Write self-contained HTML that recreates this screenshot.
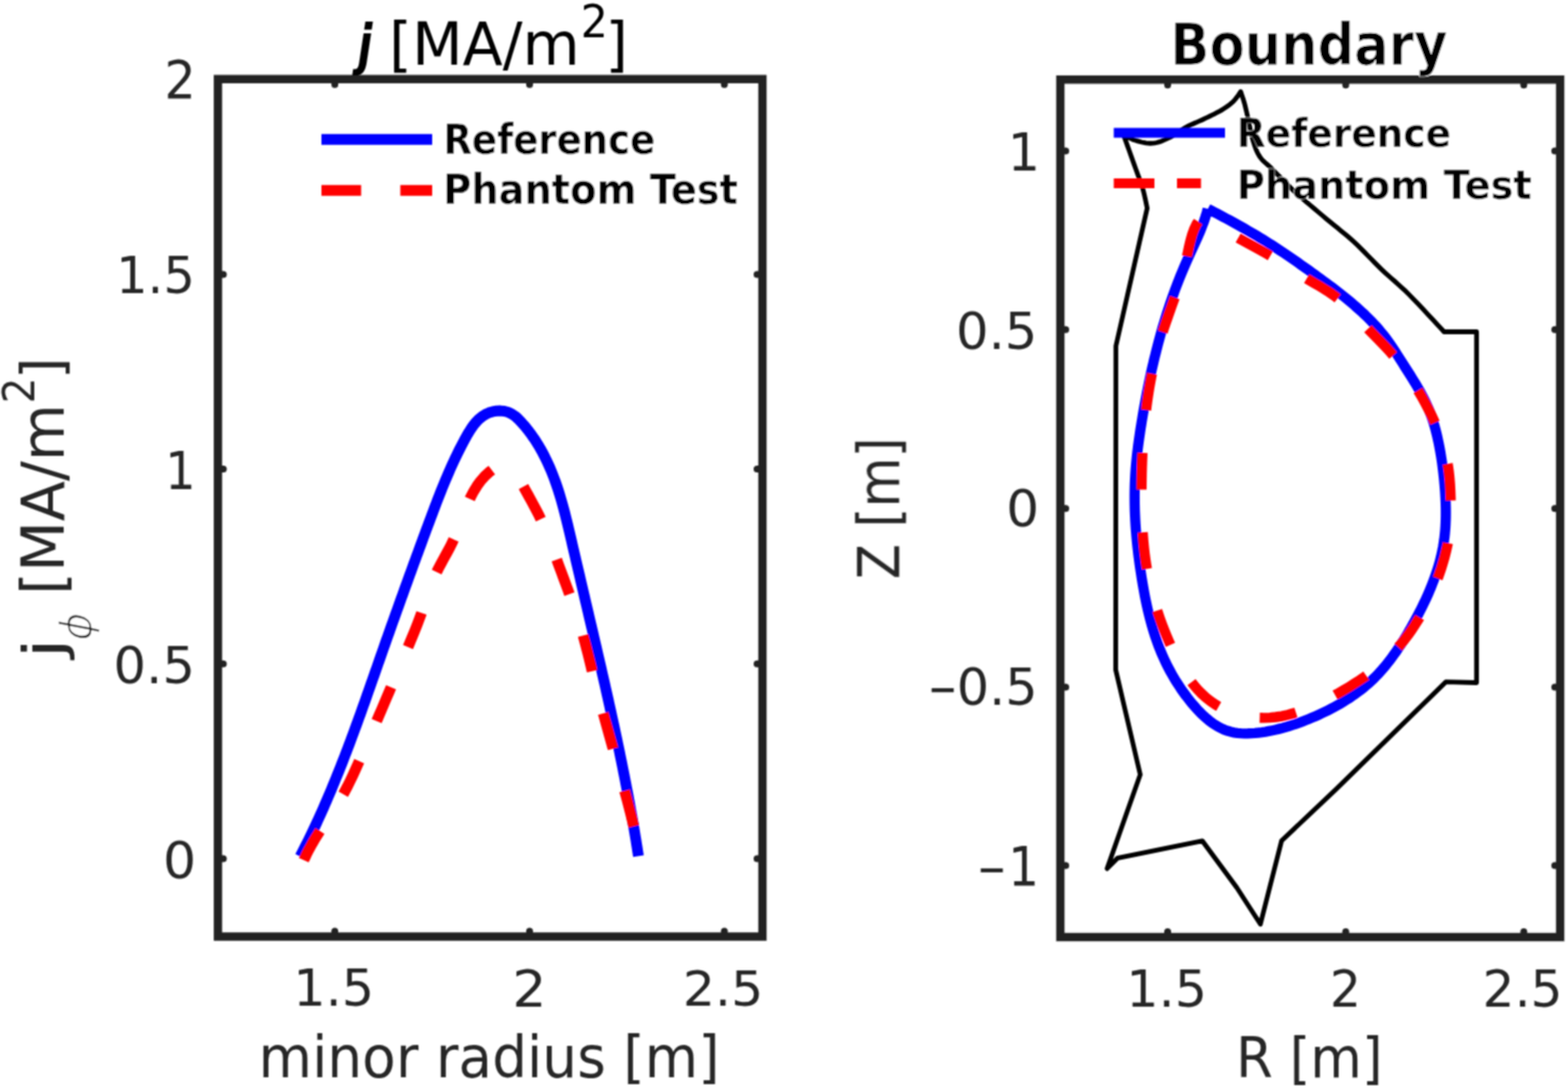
<!DOCTYPE html><html><head><meta charset="utf-8"><title>j and Boundary</title><style>html,body{margin:0;padding:0;background:#fff;}svg{display:block;}text{font-family:"DejaVu Sans","Liberation Sans",sans-serif;}</style></head><body>
<svg width="1600" height="1112" viewBox="0 0 1600 1112">
<defs><filter id="soft" x="0" y="0" width="1600" height="1112" filterUnits="userSpaceOnUse"><feConvolveMatrix order="3" kernelMatrix="1 2 1 2 4 2 1 2 1" divisor="16" edgeMode="duplicate"/></filter></defs>
<rect width="1600" height="1112" fill="#fff"/>
<g filter="url(#soft)">
<path d="M306.25,873.75 L308.18,870.04 L310.09,866.32 L311.97,862.59 L313.84,858.85 L315.68,855.1 L317.5,851.35 L319.31,847.59 L321.09,843.82 L322.85,840.05 L324.6,836.27 L326.33,832.48 L328.04,828.69 L329.73,824.89 L331.41,821.08 L333.07,817.27 L334.71,813.45 L336.34,809.63 L337.95,805.8 L339.55,801.97 L341.13,798.13 L342.7,794.28 L344.26,790.43 L345.81,786.58 L347.34,782.72 L348.86,778.86 L350.37,774.99 L351.87,771.11 L353.36,767.24 L354.84,763.36 L356.31,759.47 L357.77,755.58 L359.22,751.69 L360.66,747.8 L362.1,743.9 L363.53,740 L364.95,736.09 L366.37,732.19 L367.78,728.28 L369.18,724.36 L370.58,720.45 L371.98,716.53 L373.37,712.61 L374.75,708.69 L376.14,704.77 L377.52,700.85 L378.9,696.92 L380.28,692.99 L381.66,689.06 L383.03,685.13 L384.41,681.2 L385.78,677.27 L387.16,673.34 L388.54,669.41 L389.91,665.48 L391.3,661.54 L392.68,657.61 L394.06,653.68 L395.45,649.74 L396.84,645.81 L398.23,641.88 L399.63,637.95 L401.03,634.02 L402.43,630.09 L403.83,626.16 L405.23,622.23 L406.64,618.3 L408.04,614.38 L409.45,610.46 L410.87,606.53 L412.28,602.61 L413.7,598.69 L415.11,594.78 L416.53,590.86 L417.95,586.95 L419.37,583.04 L420.8,579.13 L422.22,575.22 L423.65,571.32 L425.08,567.42 L426.51,563.52 L427.94,559.63 L429.38,555.73 L430.81,551.85 L432.25,547.96 L433.68,544.08 L435.12,540.2 L436.56,536.33 L438,532.46 L439.44,528.59 L440.89,524.73 L442.34,520.87 L443.79,517.01 L445.26,513.16 L446.74,509.31 L448.24,505.47 L449.76,501.63 L451.29,497.79 L452.85,493.95 L454.44,490.12 L456.05,486.29 L457.7,482.46 L459.37,478.64 L461.09,474.82 L462.84,471 L464.64,467.18 L466.48,463.37 L468.36,459.55 L470.3,455.74 L472.28,451.93 L474.32,448.13 L476.42,444.33 L478.62,440.6 L480.93,437 L483.38,433.57 L486.02,430.38 L488.87,427.48 L491.95,424.94 L495.29,422.8 L498.91,421.11 L502.73,419.92 L506.67,419.24 L510.65,419.1 L514.6,419.53 L518.43,420.56 L522.08,422.21 L525.46,424.48 L528.62,427.25 L531.6,430.32 L534.45,433.53 L537.18,436.81 L539.81,440.16 L542.34,443.58 L544.76,447.05 L547.08,450.58 L549.3,454.16 L551.43,457.77 L553.46,461.43 L555.4,465.12 L557.26,468.84 L559.03,472.59 L560.73,476.37 L562.35,480.18 L563.9,484.01 L565.38,487.87 L566.8,491.76 L568.16,495.67 L569.46,499.59 L570.72,503.54 L571.92,507.5 L573.09,511.48 L574.21,515.48 L575.3,519.49 L576.35,523.51 L577.38,527.54 L578.38,531.58 L579.36,535.62 L580.33,539.67 L581.29,543.73 L582.23,547.79 L583.17,551.85 L584.11,555.91 L585.05,559.97 L585.99,564.02 L586.94,568.08 L587.88,572.14 L588.82,576.2 L589.77,580.25 L590.71,584.31 L591.66,588.36 L592.6,592.42 L593.55,596.47 L594.49,600.52 L595.44,604.58 L596.39,608.63 L597.33,612.68 L598.28,616.74 L599.23,620.79 L600.17,624.84 L601.12,628.9 L602.07,632.95 L603.01,637 L603.96,641.06 L604.91,645.11 L605.85,649.16 L606.79,653.22 L607.74,657.27 L608.68,661.32 L609.62,665.38 L610.55,669.43 L611.49,673.49 L612.42,677.54 L613.36,681.6 L614.28,685.66 L615.21,689.71 L616.13,693.77 L617.06,697.83 L617.97,701.89 L618.89,705.95 L619.8,710.01 L620.71,714.07 L621.61,718.13 L622.51,722.2 L623.41,726.26 L624.3,730.32 L625.18,734.39 L626.07,738.46 L626.94,742.52 L627.82,746.59 L628.68,750.66 L629.55,754.73 L630.4,758.8 L631.26,762.88 L632.1,766.95 L632.94,771.02 L633.77,775.1 L634.6,779.18 L635.42,783.26 L636.23,787.34 L637.04,791.42 L637.84,795.5 L638.63,799.59 L639.42,803.68 L640.2,807.76 L640.97,811.85 L641.73,815.94 L642.49,820.04 L643.23,824.13 L643.97,828.23 L644.7,832.33 L645.42,836.43 L646.13,840.53 L646.83,844.63 L647.53,848.74 L648.21,852.85 L648.89,856.96 L649.55,861.07 L650.21,865.18 L650.85,869.3 L651.49,873.41" fill="none" stroke="#0000ff" stroke-width="11" stroke-linejoin="round"/>
<path d="M309.99,877.5 L312.61,871.84 L315.44,866.31 L318.44,860.88 L321.59,855.55 L324.85,850.28 L328.2,845.06 L331.6,839.87 L335.01,834.7 L338.42,829.52 L341.78,824.32 L345.07,819.08 L348.25,813.77 L351.3,808.39 L354.2,802.92 L356.97,797.38 L359.64,791.78 L362.23,786.14 L364.77,780.47 L367.28,774.79 L369.77,769.1 L372.26,763.42 L374.74,757.73 L377.22,752.04 L379.68,746.35 L382.14,740.66 L384.59,734.97 L387.04,729.28 L389.48,723.58 L391.91,717.89 L394.34,712.19 L396.77,706.49 L399.19,700.79 L401.6,695.09 L404.01,689.39 L406.42,683.69 L408.82,677.99 L411.22,672.28 L413.62,666.58 L416.02,660.87 L418.41,655.16 L420.78,649.45 L423.12,643.71 L425.4,637.95 L427.62,632.15 L429.75,626.31 L431.78,620.43 L433.76,614.52 L435.74,608.61 L437.76,602.73 L439.88,596.9 L442.16,591.15 L444.64,585.52 L447.35,580 L450.22,574.56 L453.18,569.17 L456.15,563.77 L459.06,558.33 L461.82,552.79 L464.38,547.13 L466.73,541.35 L468.96,535.5 L471.13,529.6 L473.31,523.72 L475.57,517.87 L477.97,512.12 L480.57,506.49 L483.46,501.02 L486.69,495.76 L490.33,490.75 L494.45,486.03 L499.12,481.64 L504.36,477.7 L509.86,474.95 L515.16,474.39 L519.97,476.47 L524.34,480.62 L528.34,486.17 L532.03,492.45 L535.48,498.79 L538.75,504.74 L541.85,510.37 L544.8,515.77 L547.6,521.05 L550.26,526.3 L552.8,531.63 L555.22,537.12 L557.56,542.74 L559.81,548.47 L562.01,554.29 L564.17,560.16 L566.32,566.06 L568.46,571.97 L570.61,577.84 L572.78,583.7 L574.95,589.54 L577.11,595.37 L579.26,601.19 L581.38,607 L583.47,612.82 L585.52,618.65 L587.53,624.48 L589.48,630.33 L591.36,636.21 L593.18,642.1 L594.91,648.03 L596.56,653.99 L598.14,659.98 L599.67,666 L601.16,672.02 L602.63,678.05 L604.11,684.09 L605.61,690.12 L607.14,696.13 L608.69,702.14 L610.26,708.15 L611.86,714.14 L613.47,720.13 L615.09,726.11 L616.73,732.09 L618.38,738.07 L620.04,744.04 L621.7,750.01 L623.37,755.98 L625.04,761.94 L626.71,767.91 L628.37,773.87 L630.03,779.84 L631.69,785.81 L633.33,791.78 L634.96,797.75 L636.58,803.73 L638.18,809.71 L639.77,815.7 L641.33,821.69 L642.87,827.69 L644.39,833.69 L645.87,839.71 L647.33,845.73 L648.76,851.76 L650.15,857.8 L651.5,863.85 L652.82,869.92 L654.09,875.99" fill="none" stroke="#ff0000" stroke-width="11" stroke-dasharray="37.5 44.5" stroke-dashoffset="3.5" stroke-linejoin="round"/>
<rect x="222.4" y="80.7" width="555.6" height="874.8" fill="none" stroke="#232323" stroke-width="8.5"/>
<path d="M341.65,955.5 v-5.5 M341.65,80.7 v5.5 M540.4,955.5 v-5.5 M540.4,80.7 v5.5 M739.15,955.5 v-5.5 M739.15,80.7 v5.5 M222.4,876 h5.5 M778,876 h-5.5 M222.4,677.3 h5.5 M778,677.3 h-5.5 M222.4,478.6 h5.5 M778,478.6 h-5.5 M222.4,279.9 h5.5 M778,279.9 h-5.5" stroke="#232323" stroke-width="7" stroke-linecap="round" fill="none"/>
<path d="M328,142.2 H441" stroke="#0000ff" stroke-width="11"/>
<path d="M328,194.2 H368.5" stroke="#ff0000" stroke-width="11"/>
<path d="M408.5,194.2 H441" stroke="#ff0000" stroke-width="11"/>
<text transform="matrix(0.50426 0 0 0.52703 167.77 100)" font-size="100" fill="#262626">2</text>
<text transform="matrix(0.50576 0 0 0.51081 118.44 298.69)" font-size="100" fill="#262626">1.5</text>
<text transform="matrix(0.4907 0 0 0.52877 168.6 498.5)" font-size="100" fill="#262626">1</text>
<text transform="matrix(0.52308 0 0 0.51316 115.84 697.19)" font-size="100" fill="#262626">0.5</text>
<text transform="matrix(0.534 0 0 0.51579 166.36 895.58)" font-size="100" fill="#262626">0</text>
<text transform="matrix(0.51942 0 0 0.51081 299.29 1026.19)" font-size="100" fill="#262626">1.5</text>
<text transform="matrix(0.54894 0 0 0.51081 522.86 1026.7)" font-size="100" fill="#262626">2</text>
<text transform="matrix(0.51678 0 0 0.504 696.68 1026.2)" font-size="100" fill="#262626">2.5</text>
<text transform="matrix(0.56078 0 0 0.59326 263.85 1099.19)" font-size="100" fill="#262626">minor radius [m]</text>
<text transform="matrix(0.37849 0 0 0.42987 452.39 156.57)" font-size="100" font-weight="bold" fill="#000" stroke="#fff" stroke-width="1.0" stroke-linejoin="round">Reference</text>
<text transform="matrix(0.39142 0 0 0.43117 452.28 208.47)" font-size="100" font-weight="bold" fill="#000" stroke="#fff" stroke-width="1.0" stroke-linejoin="round">Phantom Test</text>
<text transform="matrix(0.43958 0 0 0.56598 365.11 65.01)" font-size="100" font-weight="bold" font-style="italic" fill="#000">j</text>
<text transform="matrix(0.59837 0 0 0.6 397.11 66.2)" font-size="100" fill="#000">[MA/m</text>
<text transform="matrix(0.4383 0 0 0.45608 592.53 37.5)" font-size="100" fill="#000">2</text>
<text transform="matrix(0.59 0 0 0.6 617.8 66.2)" font-size="100" fill="#000">]</text>
<text transform="matrix(0 -0.765 0.56701 0 64.39 672.07)" font-size="100" fill="#262626">j</text>
<text transform="matrix(0 -0.44821 0.44124 0 92.93 654.04)" font-size="100" font-style="italic" fill="#262626" stroke="#fff" stroke-width="4" stroke-linejoin="round">ϕ</text>
<text transform="matrix(0 -0.59967 0.6 0 65 606.9)" font-size="100" fill="#262626">[MA/m</text>
<text transform="matrix(0 -0.41489 0.43784 0 34.8 411.4)" font-size="100" fill="#262626">2</text>
<text transform="matrix(0 -0.565 0.59101 0 64.32 386.65)" font-size="100" fill="#262626">]</text>
<path d="M1146.5,137.6 L1147.42,138.06 L1148.6,138.69 L1150,139.44 L1151.57,140.27 L1153.29,141.12 L1155.09,141.94 L1156.94,142.68 L1158.8,143.3 L1160.71,143.86 L1162.75,144.43 L1164.89,144.97 L1167.09,145.47 L1169.33,145.87 L1171.58,146.15 L1173.81,146.27 L1176,146.2 L1178.16,145.93 L1180.32,145.48 L1182.48,144.88 L1184.64,144.16 L1186.81,143.32 L1188.97,142.41 L1191.14,141.42 L1193.3,140.4 L1195.46,139.27 L1197.63,137.98 L1199.79,136.59 L1201.96,135.13 L1204.12,133.66 L1206.28,132.21 L1208.44,130.85 L1210.6,129.6 L1212.75,128.48 L1214.9,127.44 L1217.05,126.46 L1219.2,125.51 L1221.35,124.59 L1223.5,123.66 L1225.65,122.7 L1227.8,121.7 L1230,120.65 L1232.25,119.58 L1234.54,118.5 L1236.81,117.4 L1239.03,116.3 L1241.18,115.22 L1243.21,114.15 L1245.1,113.1 L1246.85,112.07 L1248.52,111.04 L1250.09,110.02 L1251.57,109.02 L1252.96,108.03 L1254.26,107.06 L1255.47,106.12 L1256.6,105.2 L1257.61,104.31 L1258.5,103.45 L1259.29,102.6 L1259.99,101.78 L1260.64,100.98 L1261.24,100.2 L1261.82,99.44 L1262.4,98.7 L1262.98,97.95 L1263.54,97.19 L1264.07,96.43 L1264.56,95.69 L1265.01,95.01 L1265.4,94.4 L1265.74,93.89 L1266,93.5 L1266.28,94.33 L1266.65,95.42 L1267.1,96.71 L1267.59,98.16 L1268.11,99.71 L1268.64,101.32 L1269.14,102.93 L1269.6,104.5 L1270.01,105.98 L1270.39,107.41 L1270.75,108.84 L1271.11,110.33 L1271.49,111.93 L1271.91,113.7 L1272.37,115.71 L1272.9,118 L1273.5,120.7 L1274.15,123.81 L1274.84,127.19 L1275.57,130.72 L1276.33,134.28 L1277.11,137.73 L1277.9,140.95 L1278.7,143.8 L1279.49,146.32 L1280.26,148.65 L1281.03,150.81 L1281.83,152.83 L1282.68,154.74 L1283.59,156.57 L1284.59,158.35 L1285.7,160.1 L1286.86,161.7 L1288.02,163.07 L1289.23,164.31 L1290.53,165.51 L1291.95,166.76 L1293.54,168.16 L1295.35,169.81 L1297.4,171.8 L1299.7,174.13 L1302.21,176.72 L1304.91,179.51 L1307.79,182.48 L1310.83,185.57 L1314.02,188.75 L1317.35,191.97 L1320.8,195.2 L1324.47,198.52 L1328.43,202 L1332.58,205.6 L1336.86,209.25 L1341.17,212.9 L1345.43,216.5 L1349.57,219.98 L1353.5,223.3 L1357.23,226.42 L1360.85,229.37 L1364.38,232.22 L1367.84,235.01 L1371.27,237.79 L1374.69,240.64 L1378.12,243.59 L1381.6,246.7 L1385.1,250 L1388.6,253.43 L1392.1,256.96 L1395.6,260.56 L1399.1,264.17 L1402.6,267.75 L1406.1,271.28 L1409.6,274.7 L1413.06,277.94 L1416.44,281 L1419.79,283.96 L1423.16,286.92 L1426.59,289.96 L1430.13,293.16 L1433.82,296.61 L1437.7,300.4 L1442.05,304.83 L1446.95,309.95 L1452.13,315.45 L1457.36,321.06 L1462.36,326.46 L1466.89,331.36 L1470.69,335.48 L1473.5,338.5 L1506.7,338.5 L1506.7,696.5 L1475.3,695.7 L1363.5,805 L1307.7,857.8 L1286.1,942.8 L1262,905.5 L1226.8,857.8 L1140.5,875.3 L1129.7,886.1 L1163.5,790.2 L1138.5,683.4 L1138.7,353 L1170.6,212.4 L1170.26,210.84 L1169.83,208.77 L1169.33,206.3 L1168.75,203.56 L1168.12,200.66 L1167.44,197.72 L1166.73,194.86 L1166,192.2 L1165.26,189.77 L1164.5,187.48 L1163.71,185.25 L1162.88,182.99 L1161.99,180.62 L1161.02,178.05 L1159.96,175.2 L1158.8,172 L1157.42,168.14 L1155.8,163.59 L1154.02,158.63 L1152.2,153.54 L1150.44,148.6 L1148.83,144.11 L1147.48,140.35 Z" fill="none" stroke="#000" stroke-width="4.8" stroke-linejoin="round"/>
<path d="M1232.52,212.99 L1235.67,214.64 L1238.82,216.29 L1241.97,217.95 L1245.12,219.62 L1248.27,221.3 L1251.42,222.99 L1254.57,224.69 L1257.7,226.4 L1260.84,228.13 L1263.97,229.86 L1267.08,231.61 L1270.2,233.38 L1273.3,235.16 L1276.39,236.95 L1279.47,238.76 L1282.54,240.59 L1285.59,242.44 L1288.63,244.3 L1291.66,246.18 L1294.68,248.08 L1297.68,249.99 L1300.67,251.92 L1303.65,253.87 L1306.63,255.82 L1309.59,257.8 L1312.54,259.79 L1315.49,261.79 L1318.42,263.8 L1321.35,265.82 L1324.27,267.86 L1327.19,269.9 L1330.1,271.96 L1333.01,274.03 L1335.91,276.1 L1338.81,278.19 L1341.71,280.28 L1344.6,282.38 L1347.49,284.49 L1350.38,286.61 L1353.26,288.73 L1356.14,290.87 L1359.01,293.02 L1361.86,295.18 L1364.71,297.36 L1367.53,299.56 L1370.34,301.77 L1373.14,304.01 L1375.9,306.27 L1378.65,308.56 L1381.37,310.87 L1384.06,313.21 L1386.72,315.58 L1389.35,317.98 L1391.95,320.41 L1394.51,322.88 L1397.03,325.38 L1399.51,327.93 L1401.94,330.51 L1404.34,333.13 L1406.68,335.8 L1408.98,338.51 L1411.23,341.26 L1413.42,344.07 L1415.56,346.92 L1417.64,349.82 L1419.69,352.76 L1421.69,355.73 L1423.67,358.73 L1425.62,361.74 L1427.55,364.77 L1429.48,367.8 L1431.41,370.82 L1433.34,373.84 L1435.27,376.85 L1437.19,379.86 L1439.1,382.88 L1441,385.9 L1442.87,388.94 L1444.72,391.98 L1446.53,395.05 L1448.3,398.14 L1450.04,401.26 L1451.72,404.41 L1453.35,407.58 L1454.91,410.79 L1456.4,414.02 L1457.82,417.3 L1459.16,420.61 L1460.41,423.95 L1461.58,427.33 L1462.67,430.74 L1463.69,434.17 L1464.64,437.62 L1465.53,441.08 L1466.37,444.56 L1467.16,448.03 L1467.91,451.51 L1468.61,455 L1469.27,458.49 L1469.89,461.98 L1470.47,465.48 L1471.02,468.98 L1471.53,472.5 L1472,476.02 L1472.45,479.55 L1472.86,483.09 L1473.24,486.63 L1473.6,490.19 L1473.93,493.76 L1474.23,497.34 L1474.51,500.93 L1474.75,504.53 L1474.95,508.13 L1475.12,511.74 L1475.24,515.34 L1475.32,518.95 L1475.35,522.56 L1475.33,526.16 L1475.26,529.75 L1475.13,533.34 L1474.95,536.92 L1474.7,540.49 L1474.39,544.05 L1474.01,547.6 L1473.56,551.12 L1473.03,554.64 L1472.44,558.13 L1471.77,561.6 L1471.04,565.06 L1470.24,568.5 L1469.37,571.93 L1468.44,575.34 L1467.45,578.73 L1466.4,582.1 L1465.29,585.46 L1464.13,588.81 L1462.92,592.14 L1461.65,595.46 L1460.34,598.76 L1458.98,602.05 L1457.57,605.32 L1456.12,608.58 L1454.63,611.83 L1453.1,615.07 L1451.54,618.29 L1449.94,621.5 L1448.3,624.7 L1446.64,627.89 L1444.95,631.06 L1443.22,634.23 L1441.48,637.38 L1439.71,640.53 L1437.91,643.65 L1436.09,646.76 L1434.23,649.86 L1432.34,652.93 L1430.42,655.97 L1428.47,658.99 L1426.48,661.98 L1424.45,664.94 L1422.38,667.86 L1420.28,670.75 L1418.13,673.6 L1415.93,676.4 L1413.69,679.17 L1411.4,681.88 L1409.07,684.55 L1406.68,687.16 L1404.24,689.72 L1401.75,692.22 L1399.21,694.67 L1396.6,697.05 L1393.94,699.37 L1391.23,701.63 L1388.47,703.83 L1385.65,705.97 L1382.79,708.06 L1379.88,710.09 L1376.93,712.07 L1373.94,713.99 L1370.92,715.87 L1367.85,717.69 L1364.75,719.46 L1361.62,721.19 L1358.46,722.87 L1355.28,724.51 L1352.06,726.1 L1348.83,727.66 L1345.57,729.17 L1342.3,730.64 L1339,732.07 L1335.69,733.46 L1332.37,734.8 L1329.02,736.1 L1325.66,737.35 L1322.28,738.54 L1318.89,739.68 L1315.48,740.76 L1312.05,741.79 L1308.61,742.75 L1305.16,743.64 L1301.68,744.47 L1298.2,745.22 L1294.69,745.91 L1291.18,746.52 L1287.64,747.05 L1284.1,747.5 L1280.54,747.87 L1276.96,748.15 L1273.38,748.31 L1269.8,748.33 L1266.23,748.18 L1262.68,747.82 L1259.17,747.27 L1255.73,746.5 L1252.36,745.51 L1249.09,744.31 L1245.91,742.88 L1242.83,741.27 L1239.83,739.47 L1236.92,737.5 L1234.08,735.38 L1231.33,733.12 L1228.65,730.74 L1226.05,728.26 L1223.51,725.68 L1221.04,723.02 L1218.63,720.3 L1216.28,717.53 L1213.98,714.73 L1211.75,711.89 L1209.57,709.01 L1207.45,706.1 L1205.38,703.16 L1203.37,700.18 L1201.41,697.18 L1199.51,694.14 L1197.67,691.08 L1195.88,687.99 L1194.15,684.87 L1192.47,681.72 L1190.85,678.55 L1189.28,675.35 L1187.77,672.13 L1186.31,668.89 L1184.9,665.62 L1183.55,662.34 L1182.26,659.04 L1181.02,655.71 L1179.83,652.37 L1178.68,649.02 L1177.59,645.64 L1176.54,642.25 L1175.53,638.85 L1174.57,635.43 L1173.65,631.99 L1172.76,628.55 L1171.91,625.09 L1171.1,621.62 L1170.32,618.15 L1169.57,614.66 L1168.86,611.16 L1168.16,607.66 L1167.5,604.15 L1166.86,600.63 L1166.24,597.11 L1165.64,593.58 L1165.06,590.05 L1164.5,586.52 L1163.96,582.98 L1163.44,579.44 L1162.93,575.9 L1162.44,572.35 L1161.98,568.8 L1161.53,565.25 L1161.11,561.7 L1160.71,558.15 L1160.33,554.59 L1159.97,551.04 L1159.64,547.48 L1159.33,543.92 L1159.05,540.36 L1158.8,536.8 L1158.57,533.24 L1158.37,529.67 L1158.2,526.11 L1158.05,522.55 L1157.93,518.98 L1157.85,515.42 L1157.79,511.86 L1157.77,508.3 L1157.77,504.73 L1157.81,501.17 L1157.89,497.61 L1157.99,494.05 L1158.13,490.49 L1158.31,486.94 L1158.52,483.38 L1158.76,479.83 L1159.04,476.28 L1159.35,472.73 L1159.69,469.18 L1160.06,465.63 L1160.46,462.09 L1160.88,458.54 L1161.33,455 L1161.8,451.47 L1162.29,447.93 L1162.8,444.4 L1163.33,440.86 L1163.87,437.33 L1164.43,433.81 L1165,430.28 L1165.59,426.76 L1166.19,423.24 L1166.79,419.72 L1167.41,416.21 L1168.05,412.7 L1168.69,409.19 L1169.35,405.68 L1170.02,402.18 L1170.71,398.68 L1171.41,395.18 L1172.12,391.69 L1172.85,388.2 L1173.59,384.71 L1174.35,381.23 L1175.13,377.74 L1175.92,374.27 L1176.72,370.79 L1177.54,367.32 L1178.38,363.85 L1179.24,360.39 L1180.11,356.92 L1181,353.47 L1181.91,350.02 L1182.83,346.57 L1183.78,343.12 L1184.74,339.69 L1185.72,336.25 L1186.72,332.83 L1187.74,329.4 L1188.78,325.99 L1189.84,322.58 L1190.92,319.18 L1192.02,315.78 L1193.14,312.39 L1194.28,309.01 L1195.44,305.64 L1196.63,302.27 L1197.83,298.91 L1199.06,295.57 L1200.31,292.23 L1201.59,288.89 L1202.88,285.57 L1204.2,282.26 L1205.55,278.95 L1206.91,275.66 L1208.31,272.38 L1209.72,269.11 L1211.16,265.84 L1212.63,262.59 L1214.11,259.35 L1215.61,256.11 L1217.11,252.88 L1218.6,249.64 L1220.08,246.4 L1221.54,243.15 L1222.97,239.88 L1224.36,236.61 L1225.71,233.31 L1227,229.99 L1228.24,226.65 L1229.4,223.28 L1230.48,219.87 L1231.48,216.43 L1232.39,212.96" fill="none" stroke="#0000ff" stroke-width="10.4" stroke-linejoin="miter"/>
<path d="M1228.98,219.02 L1233.79,223.16 L1238.74,227.04 L1243.82,230.7 L1249.02,234.16 L1254.31,237.47 L1259.68,240.65 L1265.1,243.74 L1270.57,246.75 L1276.06,249.74 L1281.55,252.71 L1287.03,255.72 L1292.48,258.79 L1297.87,261.94 L1303.21,265.2 L1308.51,268.53 L1313.79,271.91 L1319.06,275.3 L1324.34,278.68 L1329.66,282 L1335.03,285.24 L1340.44,288.42 L1345.84,291.6 L1351.18,294.83 L1356.42,298.18 L1361.51,301.71 L1366.41,305.48 L1371.09,309.52 L1375.6,313.79 L1379.98,318.23 L1384.27,322.78 L1388.52,327.4 L1392.77,332.03 L1397.06,336.61 L1401.42,341.13 L1405.8,345.62 L1410.17,350.1 L1414.49,354.62 L1418.72,359.21 L1422.82,363.91 L1426.77,368.73 L1430.57,373.67 L1434.23,378.73 L1437.77,383.88 L1441.21,389.11 L1444.54,394.42 L1447.79,399.79 L1450.96,405.23 L1454.02,410.71 L1456.97,416.26 L1459.8,421.87 L1462.49,427.53 L1465.03,433.26 L1467.4,439.04 L1469.6,444.88 L1471.61,450.78 L1473.42,456.74 L1475.01,462.76 L1476.37,468.83 L1477.5,474.97 L1478.38,481.16 L1479.06,487.4 L1479.57,493.68 L1479.93,499.97 L1480.19,506.28 L1480.37,512.59 L1480.48,518.88 L1480.44,525.16 L1480.22,531.41 L1479.76,537.62 L1479.07,543.79 L1478.14,549.93 L1477.01,556.03 L1475.67,562.1 L1474.14,568.13 L1472.44,574.13 L1470.57,580.09 L1468.55,586.03 L1466.39,591.93 L1464.1,597.79 L1461.68,603.62 L1459.12,609.39 L1456.42,615.09 L1453.57,620.72 L1450.58,626.27 L1447.45,631.73 L1444.16,637.08 L1440.71,642.31 L1437.11,647.43 L1433.34,652.4 L1429.42,657.24 L1425.32,661.92 L1421.06,666.44 L1416.63,670.8 L1412.05,675.01 L1407.34,679.07 L1402.49,683 L1397.52,686.79 L1392.44,690.47 L1387.26,694.02 L1381.99,697.46 L1376.64,700.79 L1371.22,704.03 L1365.73,707.17 L1360.19,710.23 L1354.61,713.19 L1348.98,716.05 L1343.3,718.76 L1337.57,721.3 L1331.78,723.64 L1325.94,725.77 L1320.04,727.64 L1314.07,729.24 L1308.04,730.53 L1301.95,731.5 L1295.78,732.1 L1289.55,732.33 L1283.24,732.14 L1276.87,731.53 L1270.5,730.49 L1264.18,729.03 L1257.98,727.15 L1251.96,724.86 L1246.18,722.18 L1240.71,719.1 L1235.56,715.64 L1230.73,711.83 L1226.19,707.7 L1221.93,703.27 L1217.92,698.58 L1214.15,693.65 L1210.61,688.52 L1207.27,683.2 L1204.11,677.73 L1201.13,672.14 L1198.29,666.45 L1195.58,660.7 L1192.99,654.9 L1190.51,649.08 L1188.14,643.23 L1185.88,637.35 L1183.73,631.45 L1181.7,625.52 L1179.79,619.57 L1177.99,613.58 L1176.32,607.58 L1174.76,601.55 L1173.33,595.49 L1172.02,589.42 L1170.84,583.31 L1169.78,577.19 L1168.85,571.04 L1168.03,564.88 L1167.33,558.69 L1166.73,552.49 L1166.23,546.27 L1165.81,540.04 L1165.48,533.79 L1165.22,527.54 L1165.04,521.28 L1164.92,515.01 L1164.85,508.73 L1164.83,502.45 L1164.85,496.17 L1164.92,489.88 L1165.03,483.6 L1165.19,477.32 L1165.4,471.04 L1165.66,464.76 L1165.98,458.49 L1166.35,452.22 L1166.78,445.96 L1167.28,439.71 L1167.84,433.47 L1168.46,427.24 L1169.15,421.01 L1169.92,414.81 L1170.76,408.61 L1171.67,402.43 L1172.66,396.27 L1173.74,390.12 L1174.89,384 L1176.14,377.89 L1177.47,371.8 L1178.89,365.73 L1180.4,359.69 L1182.01,353.67 L1183.72,347.68 L1185.52,341.71 L1187.43,335.77 L1189.41,329.85 L1191.45,323.94 L1193.53,318.04 L1195.63,312.13 L1197.73,306.22 L1199.8,300.3 L1201.83,294.35 L1203.8,288.37 L1205.68,282.36 L1207.46,276.3 L1209.11,270.19 L1210.62,264.03 L1211.98,257.82 L1213.3,251.6 L1214.73,245.47 L1216.41,239.5 L1218.49,233.76 L1221.11,228.33 L1224.42,223.3 L1228.56,218.72" fill="none" stroke="#ff0000" stroke-width="10.4" stroke-dasharray="37.5 43.8" stroke-dashoffset="39.35" stroke-linejoin="miter"/>
<rect x="1082" y="81.2" width="510" height="874.8" fill="none" stroke="#232323" stroke-width="8.5"/>
<path d="M1191.5,956 v-5.5 M1191.5,81.2 v5.5 M1373.2,956 v-5.5 M1373.2,81.2 v5.5 M1554.9,956 v-5.5 M1554.9,81.2 v5.5 M1082,153.9 h5.5 M1592,153.9 h-5.5 M1082,336.3 h5.5 M1592,336.3 h-5.5 M1082,518.7 h5.5 M1592,518.7 h-5.5 M1082,701 h5.5 M1592,701 h-5.5 M1082,883 h5.5 M1592,883 h-5.5" stroke="#232323" stroke-width="7" stroke-linecap="round" fill="none"/>
<path d="M1136.5,135.5 H1250" stroke="#0000ff" stroke-width="10"/>
<path d="M1136.5,187 H1178" stroke="#ff0000" stroke-width="10"/>
<path d="M1201,187 H1225.5" stroke="#ff0000" stroke-width="10"/>
<text transform="matrix(0.5186 0 0 0.52877 1028.3 173.8)" font-size="100" fill="#262626">1</text>
<text transform="matrix(0.52308 0 0 0.52237 975.44 355.58)" font-size="100" fill="#262626">0.5</text>
<text transform="matrix(0.528 0 0 0.51842 1026.8 537.48)" font-size="100" fill="#262626">0</text>
<text transform="matrix(0.51799 0 0 0.51622 1149.3 1026.78)" font-size="100" fill="#262626">1.5</text>
<text transform="matrix(0.5 0 0 0.51622 1357.1 1027.3)" font-size="100" fill="#262626">2</text>
<text transform="matrix(0.51399 0 0 0.50933 1512.7 1026.79)" font-size="100" fill="#262626">2.5</text>
<text transform="matrix(0.5407 0 0 0.57753 1261.19 1099.09)" font-size="100" fill="#262626">R [m]</text>
<text transform="matrix(0.36032 0 0 0.5 947 720.1)" font-size="100" fill="#262626">−</text>
<text transform="matrix(0.52028 0 0 0.51316 976.16 719.09)" font-size="100" fill="#262626">0.5</text>
<text transform="matrix(0.36032 0 0 0.4875 996.9 902.76)" font-size="100" fill="#262626">−</text>
<text transform="matrix(0.49535 0 0 0.54658 1028.75 903)" font-size="100" fill="#262626">1</text>
<text transform="matrix(0.52264 0 0 0.59184 1194.3 65.68)" font-size="100" font-weight="bold" fill="#000" stroke="#fff" stroke-width="1.2" stroke-linejoin="round">Boundary</text>
<text transform="matrix(0.38262 0 0 0.41169 1262.06 150.29)" font-size="100" font-weight="bold" fill="#000" stroke="#fff" stroke-width="1.0" stroke-linejoin="round">Reference</text>
<text transform="matrix(0.39182 0 0 0.41169 1261.97 202.89)" font-size="100" font-weight="bold" fill="#000" stroke="#fff" stroke-width="1.0" stroke-linejoin="round">Phantom Test</text>
<text transform="matrix(0 -0.52519 0.59551 0 917.86 590.93)" font-size="100" fill="#262626">Z [m]</text>
</g></svg></body></html>
